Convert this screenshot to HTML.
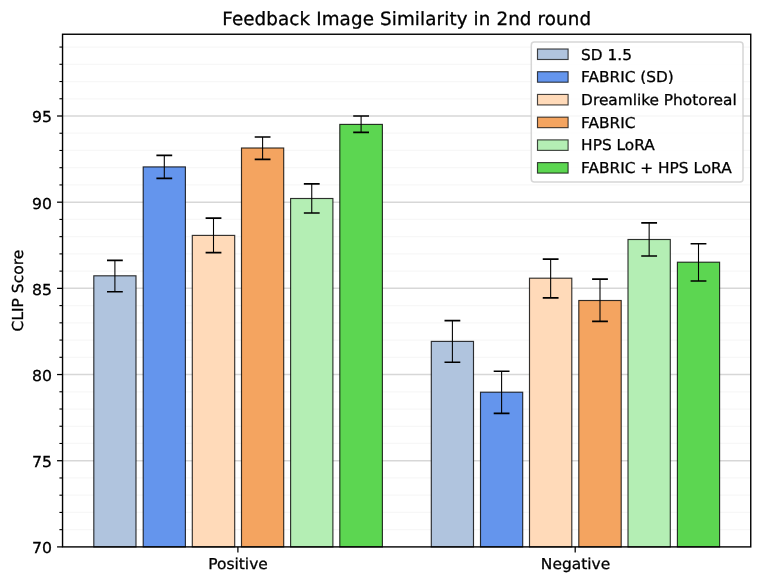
<!DOCTYPE html>
<html><head><meta charset="utf-8"><title>Feedback Image Similarity in 2nd round</title>
<style>
html,body{margin:0;padding:0;background:#fff;}
body{width:762px;height:584px;overflow:hidden;}
svg{display:block;}
text{font-family:"DejaVu Sans","Liberation Sans",sans-serif;fill:#000;stroke:#000;stroke-width:0.3px;text-rendering:geometricPrecision;}
</style></head><body>
<svg width="762" height="584" viewBox="0 0 762 584">
<rect x="0" y="0" width="762" height="584" fill="#fff"/>

<g stroke="#f7f7f7" stroke-width="1.25">
<line x1="62.55" x2="750.75" y1="529.66" y2="529.66"/>
<line x1="62.55" x2="750.75" y1="512.43" y2="512.43"/>
<line x1="62.55" x2="750.75" y1="495.19" y2="495.19"/>
<line x1="62.55" x2="750.75" y1="477.96" y2="477.96"/>
<line x1="62.55" x2="750.75" y1="443.48" y2="443.48"/>
<line x1="62.55" x2="750.75" y1="426.25" y2="426.25"/>
<line x1="62.55" x2="750.75" y1="409.01" y2="409.01"/>
<line x1="62.55" x2="750.75" y1="391.78" y2="391.78"/>
<line x1="62.55" x2="750.75" y1="357.30" y2="357.30"/>
<line x1="62.55" x2="750.75" y1="340.07" y2="340.07"/>
<line x1="62.55" x2="750.75" y1="322.83" y2="322.83"/>
<line x1="62.55" x2="750.75" y1="305.60" y2="305.60"/>
<line x1="62.55" x2="750.75" y1="271.12" y2="271.12"/>
<line x1="62.55" x2="750.75" y1="253.89" y2="253.89"/>
<line x1="62.55" x2="750.75" y1="236.65" y2="236.65"/>
<line x1="62.55" x2="750.75" y1="219.42" y2="219.42"/>
<line x1="62.55" x2="750.75" y1="184.94" y2="184.94"/>
<line x1="62.55" x2="750.75" y1="167.71" y2="167.71"/>
<line x1="62.55" x2="750.75" y1="150.47" y2="150.47"/>
<line x1="62.55" x2="750.75" y1="133.24" y2="133.24"/>
<line x1="62.55" x2="750.75" y1="98.76" y2="98.76"/>
<line x1="62.55" x2="750.75" y1="81.53" y2="81.53"/>
<line x1="62.55" x2="750.75" y1="64.29" y2="64.29"/>
<line x1="62.55" x2="750.75" y1="47.06" y2="47.06"/>
</g>
<g stroke="#d7d7d7" stroke-width="1.5">
<line x1="62.55" x2="750.75" y1="460.72" y2="460.72"/>
<line x1="62.55" x2="750.75" y1="374.54" y2="374.54"/>
<line x1="62.55" x2="750.75" y1="288.36" y2="288.36"/>
<line x1="62.55" x2="750.75" y1="202.18" y2="202.18"/>
<line x1="62.55" x2="750.75" y1="116.00" y2="116.00"/>
</g>
<rect x="93.80" y="275.80" width="42.20" height="271.10" fill="#B0C4DE" stroke="#000" stroke-opacity="0.8" stroke-width="1.15"/>
<rect x="143.20" y="166.90" width="42.20" height="380.00" fill="#6495ED" stroke="#000" stroke-opacity="0.8" stroke-width="1.15"/>
<rect x="192.30" y="235.40" width="42.40" height="311.50" fill="#FFDAB9" stroke="#000" stroke-opacity="0.8" stroke-width="1.15"/>
<rect x="241.50" y="148.00" width="42.20" height="398.90" fill="#F4A460" stroke="#000" stroke-opacity="0.8" stroke-width="1.15"/>
<rect x="290.60" y="198.50" width="42.30" height="348.40" fill="#B4EEB4" stroke="#000" stroke-opacity="0.8" stroke-width="1.15"/>
<rect x="339.80" y="124.40" width="42.60" height="422.50" fill="#5CD651" stroke="#000" stroke-opacity="0.8" stroke-width="1.15"/>
<rect x="431.30" y="341.40" width="42.20" height="205.50" fill="#B0C4DE" stroke="#000" stroke-opacity="0.8" stroke-width="1.15"/>
<rect x="480.50" y="392.20" width="42.20" height="154.70" fill="#6495ED" stroke="#000" stroke-opacity="0.8" stroke-width="1.15"/>
<rect x="529.50" y="278.20" width="42.30" height="268.70" fill="#FFDAB9" stroke="#000" stroke-opacity="0.8" stroke-width="1.15"/>
<rect x="578.80" y="300.50" width="42.40" height="246.40" fill="#F4A460" stroke="#000" stroke-opacity="0.8" stroke-width="1.15"/>
<rect x="628.00" y="239.50" width="42.30" height="307.40" fill="#B4EEB4" stroke="#000" stroke-opacity="0.8" stroke-width="1.15"/>
<rect x="677.40" y="262.20" width="42.20" height="284.70" fill="#5CD651" stroke="#000" stroke-opacity="0.8" stroke-width="1.15"/>
<g stroke="#000" fill="none">
<path stroke-width="1.08" d="M114.90 260.40V291.70"/><path stroke-width="1.65" d="M107.00 260.40h15.8M107.00 291.70h15.8"/>
<path stroke-width="1.08" d="M164.30 155.30V178.40"/><path stroke-width="1.65" d="M156.40 155.30h15.8M156.40 178.40h15.8"/>
<path stroke-width="1.08" d="M213.50 218.10V252.60"/><path stroke-width="1.65" d="M205.60 218.10h15.8M205.60 252.60h15.8"/>
<path stroke-width="1.08" d="M262.60 137.00V159.30"/><path stroke-width="1.65" d="M254.70 137.00h15.8M254.70 159.30h15.8"/>
<path stroke-width="1.08" d="M311.75 183.80V213.00"/><path stroke-width="1.65" d="M303.85 183.80h15.8M303.85 213.00h15.8"/>
<path stroke-width="1.08" d="M361.10 116.00V132.30"/><path stroke-width="1.65" d="M353.20 116.00h15.8M353.20 132.30h15.8"/>
<path stroke-width="1.08" d="M452.40 320.60V362.20"/><path stroke-width="1.65" d="M444.50 320.60h15.8M444.50 362.20h15.8"/>
<path stroke-width="1.08" d="M501.60 371.20V413.40"/><path stroke-width="1.65" d="M493.70 371.20h15.8M493.70 413.40h15.8"/>
<path stroke-width="1.08" d="M550.65 259.10V297.80"/><path stroke-width="1.65" d="M542.75 259.10h15.8M542.75 297.80h15.8"/>
<path stroke-width="1.08" d="M600.00 279.10V321.30"/><path stroke-width="1.65" d="M592.10 279.10h15.8M592.10 321.30h15.8"/>
<path stroke-width="1.08" d="M649.15 222.90V256.00"/><path stroke-width="1.65" d="M641.25 222.90h15.8M641.25 256.00h15.8"/>
<path stroke-width="1.08" d="M698.50 243.70V281.00"/><path stroke-width="1.65" d="M690.60 243.70h15.8M690.60 281.00h15.8"/>
</g>
<g stroke="#000" stroke-width="1.26">
<line x1="57.05" x2="62.55" y1="546.90" y2="546.90"/>
<line x1="57.05" x2="62.55" y1="460.72" y2="460.72"/>
<line x1="57.05" x2="62.55" y1="374.54" y2="374.54"/>
<line x1="57.05" x2="62.55" y1="288.36" y2="288.36"/>
<line x1="57.05" x2="62.55" y1="202.18" y2="202.18"/>
<line x1="57.05" x2="62.55" y1="116.00" y2="116.00"/>
<line x1="237.9" x2="237.9" y1="546.9" y2="552.4"/>
<line x1="575.2" x2="575.2" y1="546.9" y2="552.4"/>
</g>
<g stroke="#000" stroke-width="1.1">
<line x1="59.41" x2="62.55" y1="529.66" y2="529.66"/>
<line x1="59.41" x2="62.55" y1="512.43" y2="512.43"/>
<line x1="59.41" x2="62.55" y1="495.19" y2="495.19"/>
<line x1="59.41" x2="62.55" y1="477.96" y2="477.96"/>
<line x1="59.41" x2="62.55" y1="443.48" y2="443.48"/>
<line x1="59.41" x2="62.55" y1="426.25" y2="426.25"/>
<line x1="59.41" x2="62.55" y1="409.01" y2="409.01"/>
<line x1="59.41" x2="62.55" y1="391.78" y2="391.78"/>
<line x1="59.41" x2="62.55" y1="357.30" y2="357.30"/>
<line x1="59.41" x2="62.55" y1="340.07" y2="340.07"/>
<line x1="59.41" x2="62.55" y1="322.83" y2="322.83"/>
<line x1="59.41" x2="62.55" y1="305.60" y2="305.60"/>
<line x1="59.41" x2="62.55" y1="271.12" y2="271.12"/>
<line x1="59.41" x2="62.55" y1="253.89" y2="253.89"/>
<line x1="59.41" x2="62.55" y1="236.65" y2="236.65"/>
<line x1="59.41" x2="62.55" y1="219.42" y2="219.42"/>
<line x1="59.41" x2="62.55" y1="184.94" y2="184.94"/>
<line x1="59.41" x2="62.55" y1="167.71" y2="167.71"/>
<line x1="59.41" x2="62.55" y1="150.47" y2="150.47"/>
<line x1="59.41" x2="62.55" y1="133.24" y2="133.24"/>
<line x1="59.41" x2="62.55" y1="98.76" y2="98.76"/>
<line x1="59.41" x2="62.55" y1="81.53" y2="81.53"/>
<line x1="59.41" x2="62.55" y1="64.29" y2="64.29"/>
<line x1="59.41" x2="62.55" y1="47.06" y2="47.06"/>
</g>
<rect x="62.55" y="34.25" width="688.20" height="512.65" fill="none" stroke="#000" stroke-width="1.4"/>
<text transform="translate(52.05,553.25) scale(1,0.96)" font-size="15.7" text-anchor="end">70</text>
<text transform="translate(52.05,467.07) scale(1,0.96)" font-size="15.7" text-anchor="end">75</text>
<text transform="translate(52.05,380.89) scale(1,0.96)" font-size="15.7" text-anchor="end">80</text>
<text transform="translate(52.05,294.71) scale(1,0.96)" font-size="15.7" text-anchor="end">85</text>
<text transform="translate(52.05,208.53) scale(1,0.96)" font-size="15.7" text-anchor="end">90</text>
<text transform="translate(52.05,122.35) scale(1,0.96)" font-size="15.7" text-anchor="end">95</text>
<text transform="translate(238.0,569.25) scale(1,0.975)" font-size="15.45" text-anchor="middle">Positive</text>
<text transform="translate(575.5,569.25) scale(1,0.975)" font-size="15.45" text-anchor="middle">Negative</text>
<text transform="translate(22.8,290.57) rotate(-90) scale(1,0.975)" font-size="15.5" text-anchor="middle">CLIP Score</text>
<text x="406.65" y="24.8" font-size="18.3" textLength="368.8" lengthAdjust="spacing" text-anchor="middle">Feedback Image Similarity in 2nd round</text>
<rect x="531.3" y="41.9" width="211.70" height="140.10" rx="3" ry="3" fill="#fff" fill-opacity="0.8" stroke="#ccc" stroke-opacity="0.8" stroke-width="1.5"/>
<rect x="537.5" y="49.00" width="30.6" height="10.5" fill="#B0C4DE" stroke="#000" stroke-opacity="0.72" stroke-width="1.15"/>
<text transform="translate(581.1,59.60) scale(1,0.975)" font-size="15.35">SD 1.5</text>
<rect x="537.5" y="71.72" width="30.6" height="10.5" fill="#6495ED" stroke="#000" stroke-opacity="0.72" stroke-width="1.15"/>
<text transform="translate(581.1,82.32) scale(1,0.975)" font-size="15.35">FABRIC (SD)</text>
<rect x="537.5" y="94.44" width="30.6" height="10.5" fill="#FFDAB9" stroke="#000" stroke-opacity="0.72" stroke-width="1.15"/>
<text transform="translate(581.1,105.04) scale(1,0.975)" font-size="15.35">Dreamlike Photoreal</text>
<rect x="537.5" y="117.16" width="30.6" height="10.5" fill="#F4A460" stroke="#000" stroke-opacity="0.72" stroke-width="1.15"/>
<text transform="translate(581.1,127.76) scale(1,0.975)" font-size="15.35">FABRIC</text>
<rect x="537.5" y="139.88" width="30.6" height="10.5" fill="#B4EEB4" stroke="#000" stroke-opacity="0.72" stroke-width="1.15"/>
<text transform="translate(581.1,150.48) scale(1,0.975)" font-size="15.35">HPS LoRA</text>
<rect x="537.5" y="162.60" width="30.6" height="10.5" fill="#5CD651" stroke="#000" stroke-opacity="0.72" stroke-width="1.15"/>
<text transform="translate(581.1,173.20) scale(1,0.975)" font-size="15.35">FABRIC + HPS LoRA</text>
</svg></body></html>
